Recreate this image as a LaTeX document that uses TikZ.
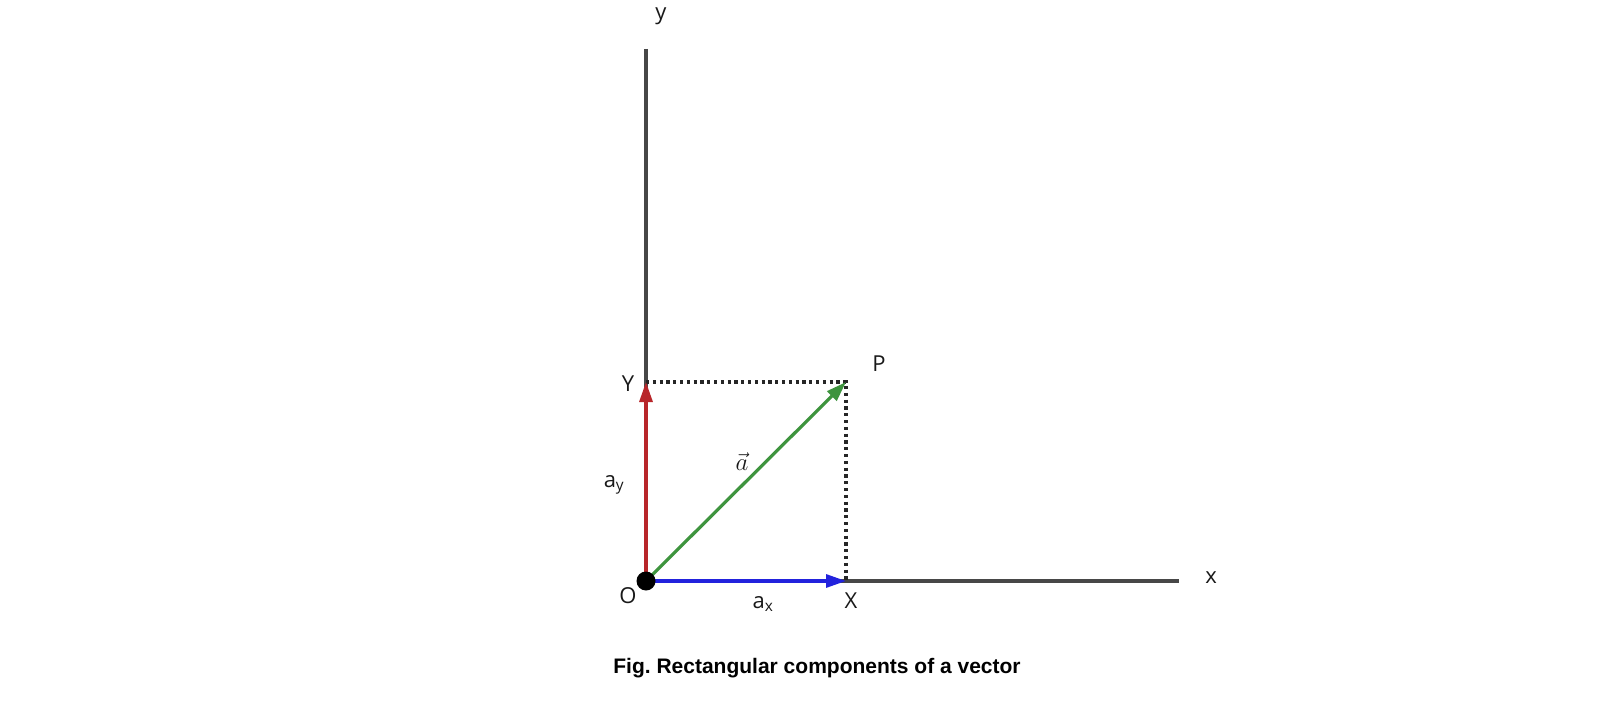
\documentclass[tikz,border=0pt]{standalone}
\usepackage{fontspec}
\setmainfont{Open Sans}
\newfontfamily\capfont{Liberation Sans}
\usetikzlibrary{arrows.meta}
\frenchspacing
\tikzset{
  axis/.style={draw=black!72, line width=3.2pt},
  comp/.style={line width=3.2pt, -{Triangle[length=20pt,width=13pt]}},
  guide/.style={draw=black!85, line width=3.2pt, dash pattern=on 3.2pt off 3.6pt},
  lbl/.style={font=\fontsize{22}{26}\selectfont, text=black!90, inner sep=0pt},
}
\definecolor{redc}{HTML}{B8262A}
\definecolor{bluec}{HTML}{2222DD}
\definecolor{greenc}{HTML}{3E943E}
\begin{document}
\begin{tikzpicture}[x=1pt,y=-1pt]
\useasboundingbox (0,0) rectangle (1600,703);
\coordinate (O) at (646,581);
\coordinate (Ytop) at (646,49);
\coordinate (Xend) at (1179,581);
\coordinate (Y) at (646,382);
\coordinate (X) at (846,581);
\coordinate (P) at (846,382);
\draw[axis] (Ytop) -- (O);
\draw[axis] (O) -- (Xend);
\draw[guide] (Y) -- (P) -- (X);
\draw[comp, draw=redc, fill=redc] (O) -- (Y);
\draw[comp, draw=bluec, fill=bluec] (O) -- (X);
\draw[comp, draw=greenc, fill=greenc] (O) -- (P);
\fill[black] (O) circle (9.5);
\node[lbl] (ly) at (661,16) {y};
\node[lbl] (lx) at (1211,578) {x};
\node[lbl] (lY) at (628,384) {Y};
\node[lbl] (lP) at (879,364) {P};
\node[lbl] (lX) at (851,601) {X};
\node[lbl] (lO) at (628,596) {O};
\node[lbl] (lay) at (614,485) {a\textsubscript{y}};
\node[lbl] (lax) at (763,604) {a\textsubscript{x}};
\node[lbl, font=\fontsize{27}{30}\selectfont] (la) at (742,462) {$\vec{a}$};
\node[inner sep=0pt, font=\capfont\bfseries\fontsize{21}{24}\selectfont] (cap) at (817,668) {Fig. Rectangular components of a vector};
\end{tikzpicture}
\end{document}
